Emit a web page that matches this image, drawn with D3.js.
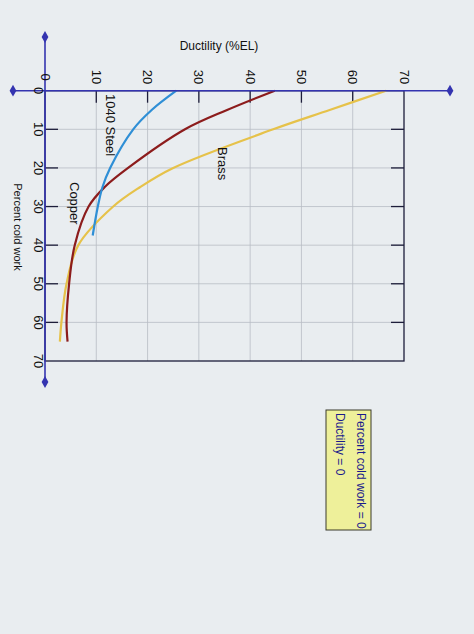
<!DOCTYPE html>
<html><head><meta charset="utf-8">
<script src="https://cdn.jsdelivr.net/npm/d3@7"></script>
<style>body{margin:0;background:#e9edf0;}svg{display:block;font-family:"Liberation Sans",Arial,sans-serif;}</style>
</head><body>
<script>
const coldWork = [0,5,10,20,25,30,40,50,60,65];
const steel1040 = [25.6,20.8,17.2,12.7,11.2,10.3,9.3];
const steel1040CW = [0,5,10,20,25,30,37.5];
const copper = [44.8,35.5,27.3,16.2,11.6,8.5,5.8,4.7,4.2,4.4];
const brass = [66.5,55.5,44.5,25,18.5,13.3,6.5,4.2,3.2,2.9];
const ticks = [0,10,20,30,40,50,60,70];

const W=474,H=634;
const svg=d3.select("body").append("svg").attr("width",W).attr("height",H);
svg.append("rect").attr("width",W).attr("height",H).attr("fill","#e9edf0");
const x=d3.scaleLinear().domain([0,70]).range([45,404]);
const y=d3.scaleLinear().domain([0,70]).range([90.7,361]);

svg.append("g").selectAll("line.v").data(ticks.slice(1,-1)).join("line")
  .attr("x1",d=>x(d)).attr("x2",d=>x(d)).attr("y1",y(0)).attr("y2",y(70)).attr("stroke","#b8bcc4").attr("stroke-width",0.8);
svg.append("g").selectAll("line.h").data(ticks.slice(1,-1)).join("line")
  .attr("y1",d=>y(d)).attr("y2",d=>y(d)).attr("x1",x(0)).attr("x2",x(70)).attr("stroke","#b8bcc4").attr("stroke-width",0.8);
svg.append("rect").attr("x",x(0)).attr("y",y(0)).attr("width",x(70)-x(0)).attr("height",y(70)-y(0))
  .attr("fill","none").attr("stroke","#1d1d3a").attr("stroke-width",1.3);
const tk=svg.append("g").attr("stroke","#1d1d3a").attr("stroke-width",1.3);
ticks.slice(1,-1).forEach(d=>{
  tk.append("line").attr("x1",x(d)).attr("x2",x(d)).attr("y1",y(0)).attr("y2",y(0)+12);
  tk.append("line").attr("y1",y(d)).attr("y2",y(d)).attr("x1",x(0)).attr("x2",x(0)+13);
  tk.append("line").attr("y1",y(d)).attr("y2",y(d)).attr("x1",x(70)).attr("x2",x(70)-13);
});

const line=d3.line().x(d=>x(d[0])).y(d=>y(d[1])).curve(d3.curveCatmullRom.alpha(0.5));
function draw(vals,cws,col){
  const pts=vals.map((v,i)=>[v,cws[i]]);
  svg.append("path").attr("d",line(pts)).attr("fill","none").attr("stroke",col).attr("stroke-width",2.2);
}
draw(brass,coldWork,"#e6c24a");
draw(copper,coldWork,"#8c1c1c");
draw(steel1040,steel1040CW,"#2f8fd6");

const ac="#3434b0";
svg.append("line").attr("x1",13).attr("x2",450).attr("y1",y(0)).attr("y2",y(0)).attr("stroke",ac).attr("stroke-width",1.6);
svg.append("line").attr("x1",x(0)).attr("x2",x(0)).attr("y1",37).attr("y2",382).attr("stroke",ac).attr("stroke-width",1.6);
const dia=d3.symbol().type(d3.symbolDiamond).size(40);
[[13,y(0)],[450,y(0)],[x(0),37],[x(0),382]].forEach(p=>
  svg.append("path").attr("d",dia).attr("transform",`translate(${p[0]},${p[1]})`).attr("fill",ac));

function rtext(px,py,t,size,anchor){
  return svg.append("text").attr("transform",`translate(${px},${py}) rotate(90)`).attr("text-anchor",anchor||"middle")
    .attr("dominant-baseline","central").attr("font-size",size).attr("fill","#111").text(t);
}
ticks.forEach(d=>rtext(x(d),77,d,13));
ticks.forEach(d=>rtext(38,y(d),d,13));
svg.append("text").attr("x",219).attr("y",50).attr("text-anchor","middle").attr("font-size",12).attr("fill","#111").text("Ductility (%EL)");
rtext(18,227,"Percent cold work",11);
rtext(110,94,"1040 Steel",13,"start");
rtext(222,147,"Brass",13,"start");
rtext(74,182,"Copper",13,"start");

svg.append("rect").attr("x",326).attr("y",410).attr("width",45).attr("height",120).attr("fill","#eef09a").attr("stroke","#3a3a2a").attr("stroke-width",1);
rtext(361,413,"Percent cold work = 0",12,"start").attr("fill","#1a1a8c");
rtext(340,413,"Ductility = 0",12,"start").attr("fill","#1a1a8c");
</script>
</body></html>
